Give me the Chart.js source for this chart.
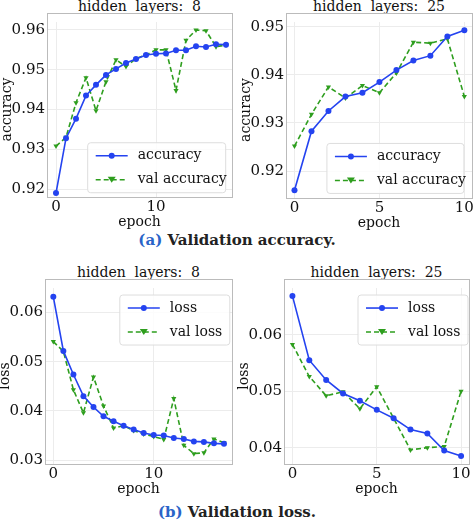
<!DOCTYPE html>
<html><head><meta charset="utf-8">
<script src="https://cdn.jsdelivr.net/npm/chart.js@4/dist/chart.umd.min.js"></script>
<style>
body{margin:0;background:#fff;width:474px;height:524px;position:relative;overflow:hidden;font-family:"DejaVu Serif","Liberation Serif",serif}
canvas{position:absolute}
.t{position:absolute;font-size:14px;line-height:16px;color:#111;text-align:center;white-space:pre}
.cap{position:absolute;width:474px;text-align:center;font-size:15px;font-weight:bold;color:#222}
.cap b{color:#2a64c8}
</style></head><body>
<div class="t" style="left:47px;width:185px;top:-2px">hidden  layers:  8</div>
<div class="t" style="left:286px;width:186px;top:-2px">hidden  layers:  25</div>
<div class="t" style="left:45px;width:187px;top:264px">hidden  layers:  8</div>
<div class="t" style="left:284px;width:185px;top:264px">hidden  layers:  25</div>
<div class="cap" style="top:231px"><b>(a)</b> Validation accuracy.</div>
<div class="cap" style="top:503px"><b>(b)</b> Validation loss.</div>
<canvas id="c1"></canvas><canvas id="c2"></canvas><canvas id="c3"></canvas><canvas id="c4"></canvas>
<script>
const epochs8 = [0,1,2,3,4,5,6,7,8,9,10,11,12,13,14,15,16,17];
const epochs25 = [0,1,2,3,4,5,6,7,8,9,10];
const acc8 = [0.919,0.9328,0.9377,0.9435,0.9462,0.9487,0.9502,0.9517,0.9527,0.9537,0.9540,0.9541,0.9549,0.9549,0.9559,0.9557,0.9564,0.9563];
const valAcc8 = [0.9308,0.933,0.9417,0.948,0.9397,0.947,0.9525,0.9508,0.9528,0.9537,0.955,0.955,0.9448,0.9574,0.9600,0.9598,0.9558,0.9562];
const acc25 = [0.916,0.9283,0.9325,0.9355,0.9363,0.9385,0.941,0.943,0.944,0.948,0.9493];
const valAcc25 = [0.9252,0.9318,0.9375,0.9352,0.9378,0.9363,0.9404,0.9468,0.9466,0.9475,0.9355];
const loss8 = [0.0632,0.0522,0.0474,0.0430,0.0408,0.0389,0.0379,0.0370,0.0362,0.0355,0.0351,0.0350,0.0345,0.0343,0.0338,0.0337,0.0334,0.0333];
const valLoss8 = [0.0541,0.0521,0.0443,0.0396,0.0469,0.0410,0.0365,0.0370,0.0360,0.0353,0.0348,0.0342,0.0425,0.0330,0.0313,0.0315,0.0343,0.0335];
const loss25 = [0.0669,0.0555,0.0520,0.0496,0.0483,0.0467,0.0452,0.0432,0.0425,0.0395,0.0385];
const valLoss25 = [0.0583,0.0526,0.0492,0.0499,0.0469,0.0508,0.0452,0.0396,0.0400,0.0402,0.0500];

const BLUE='#2443f0', GREEN='#2e9e1e', FONT='"DejaVu Serif", "Liberation Serif", serif';
const YW=48, XH=34, PT=2, PR=4;

const legendPlugin={id:'lg',afterDraw(ch,a,o){
  const ca=ch.chartArea,c=ch.ctx;
  const x=ca.left+o.fx*(ca.right-ca.left), y=ca.top+o.fy*(ca.bottom-ca.top);
  c.save();
  c.fillStyle='rgba(255,255,255,0.85)';c.strokeStyle='#ddd';c.lineWidth=1;
  c.beginPath();c.roundRect(x,y,o.w,50,3);c.fill();c.stroke();
  c.font='14px '+FONT;c.textBaseline='middle';c.fillStyle='#111';
  ch.data.datasets.forEach((d,i)=>{
    const ly=y+13+i*24;
    c.strokeStyle=d.borderColor;c.lineWidth=1.6;c.setLineDash(d.borderDash||[]);
    c.beginPath();c.moveTo(x+8,ly);c.lineTo(x+40,ly);c.stroke();c.setLineDash([]);
    c.fillStyle=d.borderColor;c.beginPath();
    if(i==0){c.arc(x+24,ly,3,0,7);}else{c.moveTo(x+20,ly-3);c.lineTo(x+28,ly-3);c.lineTo(x+24,ly+3);c.closePath();}
    c.fill();
    c.fillStyle='#111';c.fillText(d.label,x+50,ly);
  });
  c.restore();
}};

function mk(id,box,xs,a,b,la,lb,ytitle,xmin,xmax,ymin,ymax,ystep,xstep,lg){
  const cv=document.getElementById(id);
  const L=box[0]-YW,T=box[1]-PT,W=box[2]+YW+PR,H=box[3]+PT+XH;
  cv.style.left=L+'px';cv.style.top=T+'px';cv.style.width=W+'px';cv.style.height=H+'px';
  cv.width=W;cv.height=H;
  const ds=(lab,v,col,dash,tri)=>({label:lab,data:xs.map((x,i)=>({x,y:v[i]})),borderColor:col,backgroundColor:col,
    borderWidth:1.6,borderDash:dash,pointStyle:tri?'triangle':'circle',rotation:tri?180:0,pointRadius:3,pointBorderWidth:0,tension:0});
  new Chart(cv,{type:'line',data:{datasets:[ds(la,a,BLUE,[],false),ds(lb,b,GREEN,[5,3],true)]},
    plugins:[legendPlugin],
    options:{responsive:false,animation:false,devicePixelRatio:1,
      layout:{padding:{top:PT,right:PR,left:0,bottom:0}},
      plugins:{legend:{display:false},tooltip:{enabled:false},lg:lg},
      scales:{
        x:{type:'linear',min:xmin,max:xmax,afterFit(s){s.height=XH},
          afterBuildTicks(s){s.ticks=[];for(let v=0;v<=xmax;v+=xstep)s.ticks.push({value:v});},
          ticks:{font:{family:FONT,size:15},color:'#111',padding:1,maxRotation:0},
          grid:{color:'#ececec',drawTicks:false},border:{color:'#bbb'},
          title:{display:true,text:'epoch',font:{family:FONT,size:14},color:'#111',padding:{top:-3,bottom:0}}},
        y:{min:ymin,max:ymax,afterFit(s){s.width=YW},
          afterBuildTicks(s){s.ticks=[];const st=Math.ceil(ymin/ystep-1e-6);for(let k=st;k*ystep<=ymax+1e-9;k++)s.ticks.push({value:+(k*ystep).toFixed(4)});},
          ticks:{font:{family:FONT,size:15},color:'#111',padding:2,callback:v=>v.toFixed(2)},
          grid:{color:'#ececec',drawTicks:false},border:{color:'#bbb'},
          title:{display:true,text:ytitle,font:{family:FONT,size:14},color:'#111',padding:0}}
      }}});
}
mk('c1',[47,13,185,184],epochs8,acc8,valAcc8,'accuracy','val accuracy','accuracy',-0.9,17.6,0.918,0.962,0.01,10,{fx:0.22,fy:0.69,w:138});
mk('c2',[286,13,186,185],epochs25,acc25,valAcc25,'accuracy','val accuracy','accuracy',-0.5,10.45,0.9144,0.951,0.01,5,{fx:0.22,fy:0.69,w:137});
mk('c3',[45,279,187,185],epochs8,loss8,valLoss8,'loss','val loss','loss',-0.83,17.8,0.0292,0.065,0.01,10,{fx:0.40,fy:0.04,w:110});
mk('c4',[284,279,185,185],epochs25,loss25,valLoss25,'loss','val loss','loss',-0.5,10.47,0.0371,0.0683,0.01,5,{fx:0.40,fy:0.04,w:110});
</script>
<style>.fr{position:absolute;border:1px solid #bbb;pointer-events:none}</style>
<div class="fr" style="left:47px;top:13px;width:184px;height:183px"></div>
<div class="fr" style="left:286px;top:13px;width:185px;height:184px"></div>
<div class="fr" style="left:45px;top:279px;width:186px;height:184px"></div>
<div class="fr" style="left:284px;top:279px;width:184px;height:184px"></div>
</body></html>
